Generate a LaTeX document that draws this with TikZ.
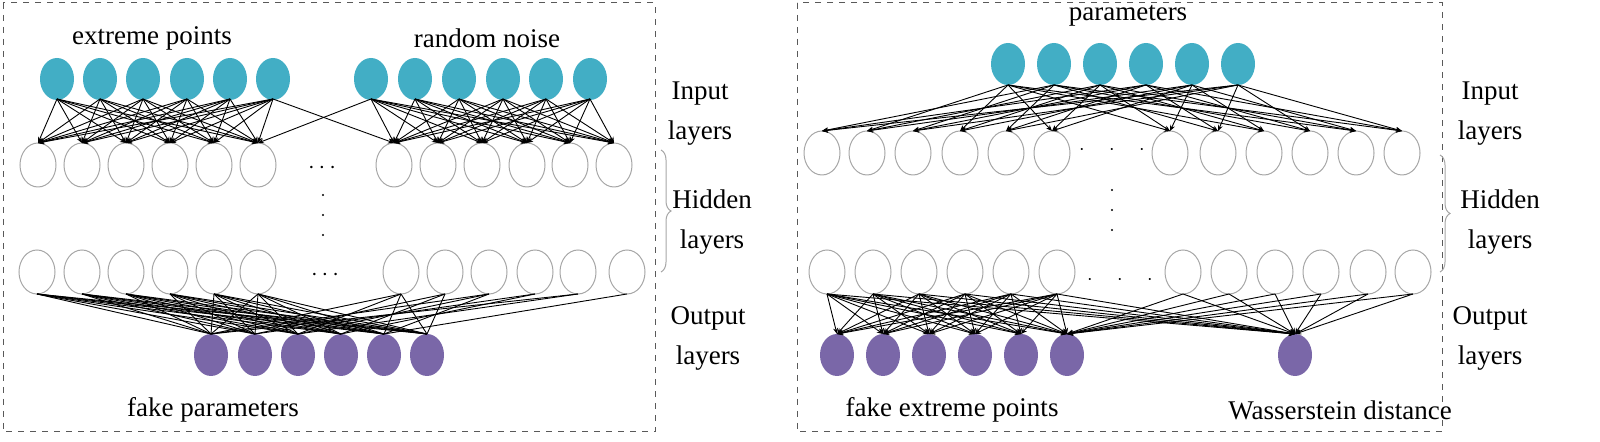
\documentclass[tikz,border=0pt]{standalone}
\usepackage{fontspec}
\setmainfont{Liberation Serif}
\usetikzlibrary{arrows.meta,decorations.pathreplacing}
\definecolor{incol}{HTML}{42AEC5}
\definecolor{outcol}{HTML}{7A67A8}
\begin{document}
\begin{tikzpicture}[x=0.5pt,y=-0.5pt,
 ln/.style={line width=0.45pt},
 ar/.style={line width=0.45pt,-{Stealth[length=3pt,width=2.5pt]}},
 lab/.style={font=\fontsize{13.5}{14}\selectfont,align=center,inner sep=0pt}]
\useasboundingbox (0,0) rectangle (1600,442);
% boxes
\draw[dashed,gray!70!black,line width=0.5pt] (3,3) rectangle (655,432);
\draw[dashed,gray!70!black,line width=0.5pt] (797,3) rectangle (1442,432);
% LEFT
\foreach \x [count=\i] in {57,100,143,187,230,273} {\fill[incol] (\x,79) ellipse (17 and 21); \coordinate (a\i) at (\x,99);}
\foreach \x [count=\i] in {371,415,459,503,546,590} {\fill[incol] (\x,79) ellipse (17 and 21); \coordinate (b\i) at (\x,99);}
\foreach \x [count=\i] in {38,82,126,170,214,258} {\draw[gray!70,line width=0.5pt] (\x,165) ellipse (18 and 22); \coordinate (h\i) at (\x,143);}
\foreach \x [count=\i] in {394,438,482,527,570,614} {\draw[gray!70,line width=0.5pt] (\x,165) ellipse (18 and 22); \coordinate (g\i) at (\x,143);}
\foreach \i in {1,...,6} \foreach \j in {1,...,6} {\draw[ar] (a\i) -- (h\j); \draw[ar] (b\i) -- (g\j);}
\draw[ar] (a6) -- (g1); \draw[ar] (b1) -- (h6);
\node[lab] (t1) at (152,38) {extreme points};
\node[lab] (t2) at (487,38) {random noise};
\node[font=\large] (d1) at (322,168) {$\cdots$};
\foreach \y in {195,215,235} \fill (323,\y) circle (1.2);
\foreach \x [count=\i] in {37,82,126,170,214,258} {\draw[gray!70,line width=0.5pt] (\x,272) ellipse (18 and 22); \coordinate (p\i) at (\x,294);}
\foreach \x [count=\i] in {401,445,489,535,578,627} {\draw[gray!70,line width=0.5pt] (\x,272) ellipse (18 and 22); \coordinate (q\i) at (\x,294);}
\node[font=\large] (d2) at (325,275) {$\cdots$};
\foreach \x [count=\i] in {211,255,298,341,384,427} {\fill[outcol] (\x,355) ellipse (17 and 21); \coordinate (o\i) at (\x,334);}
\foreach \i in {1,...,6} \foreach \j in {1,...,6} \draw[ln] (p\i) -- (o\j);
\foreach \i/\j in {1/1,1/3,1/5,2/2,2/4,2/6,3/1,3/3,3/5,4/2,4/4,5/1,5/3,6/5,1/6} \draw[ln] (q\i) -- (o\j);
\node[lab] (t3) at (213,410) {fake parameters};
\draw[gray!70,line width=0.5pt,decorate,decoration={brace,amplitude=5pt}] (661,150) -- (661,272);
\node[lab] (l1) at (700,114) {Input\\[6pt]layers};
\node[lab] (l2) at (712,222) {Hidden\\[6pt]layers};
\node[lab] (l3) at (708,338) {Output\\[6pt]layers};
% RIGHT
\node[lab] (t4) at (1128,16) {parameters};
\foreach \x [count=\i] in {1008,1054,1100,1146,1192,1238} {\fill[incol] (\x,64) ellipse (17 and 21); \coordinate (r\i) at (\x,85);}
\foreach \x [count=\i] in {822,867,913,960,1006,1052} {\draw[gray!70,line width=0.5pt] (\x,153) ellipse (18 and 22); \coordinate (s\i) at (\x,131);}
\foreach \x [count=\i] in {1170,1218,1264,1310,1356,1402} {\draw[gray!70,line width=0.5pt] (\x,153) ellipse (18 and 22); \coordinate (u\i) at (\x,131);}
\foreach \i in {1,...,6} \foreach \j in {1,...,6} {
  \pgfmathparse{int(mod(\i+\j,2))}
  \ifnum\pgfmathresult=0 \draw[ar] (r\i) -- (u\j); \else \draw[ar] (r\i) -- (s\j); \fi}
\node (d3) at (1112,150) {$\cdot\quad\cdot\quad\cdot$};
\foreach \y in {190,210,230} \fill (1112,\y) circle (1.2);
\foreach \x [count=\i] in {827,873,919,965,1011,1057} {\draw[gray!70,line width=0.5pt] (\x,272) ellipse (18 and 22); \coordinate (v\i) at (\x,294);}
\foreach \x [count=\i] in {1183,1229,1275,1321,1368,1413} {\draw[gray!70,line width=0.5pt] (\x,272) ellipse (18 and 22); \coordinate (w\i) at (\x,294);}
\node (d4) at (1120,280) {$\cdot\quad\cdot\quad\cdot$};
\foreach \x [count=\i] in {837,883,929,975,1021,1067} {\fill[outcol] (\x,355) ellipse (17 and 21); \coordinate (z\i) at (\x,334);}
\fill[outcol] (1295,355) ellipse (17 and 21); \coordinate (z7) at (1295,334);
\foreach \i in {1,...,6} {\foreach \j in {1,...,6} \draw[ar] (v\i) -- (z\j);
  \draw[ar] (v\i) -- (z7); \draw[ar] (w\i) -- (z7); \draw[ar] (w\i) -- (z6);}
\node[lab] (t5) at (952,410) {fake extreme points};
\node[lab] (t6) at (1340,410) {Wasserstein distance};
\draw[gray!70,line width=0.5pt,decorate,decoration={brace,amplitude=5pt}] (1440,155) -- (1440,272);
\node[lab] (m1) at (1490,114) {Input\\[6pt]layers};
\node[lab] (m2) at (1500,222) {Hidden\\[6pt]layers};
\node[lab] (m3) at (1490,338) {Output\\[6pt]layers};
\end{tikzpicture}
\end{document}
